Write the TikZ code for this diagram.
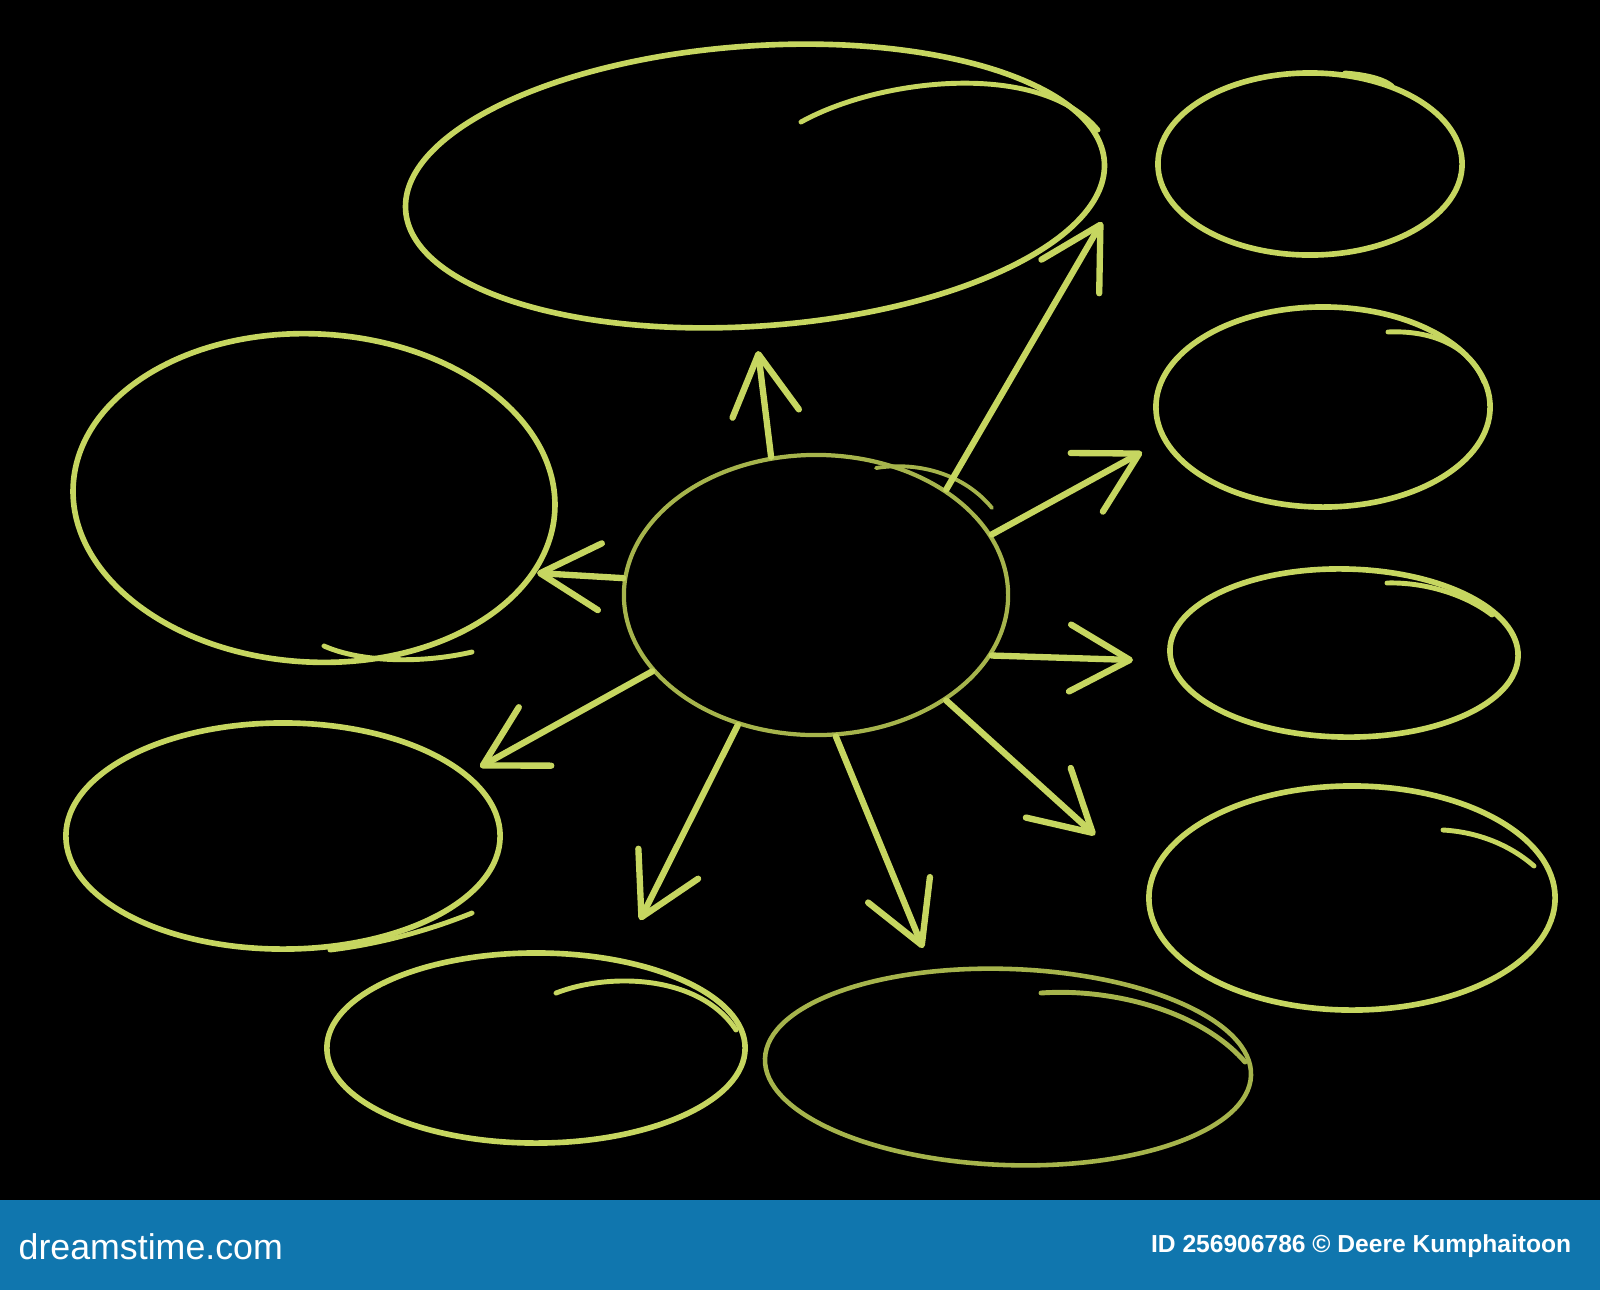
\documentclass[tikz,border=0pt]{standalone}
\usepackage{fontspec}
\setmainfont{Liberation Sans}
\usetikzlibrary{arrows.meta,shapes.geometric}
\definecolor{chalk}{RGB}{198,214,96}
\definecolor{chalkdim}{RGB}{166,180,76}
\definecolor{barblue}{RGB}{16,118,174}
\tikzset{
  bubble/.style={ellipse,draw=chalk,line width=1.6pt,inner sep=0pt},
  tail/.style={draw=chalk,line width=1.4pt,line cap=round},
  spoke/.style={draw=chalk,line width=1.8pt,line cap=round,
    -{Straight Barb[length=17pt,width=19pt,round]}},
}
\begin{document}
\begin{tikzpicture}[x=0.01cm,y=-0.01cm]
    \fill[black] (0,0) rectangle (1600,1290);
    \fill[barblue] (0,1200) rectangle (1600,1290);
    % hub and bubbles
    \node[bubble,draw=chalkdim,line width=1.2pt,minimum width=3.84cm,minimum height=2.8cm] (hub) at (816,595) {};
    \foreach \n/\x/\y/\w/\h/\r in {top/755/186/7.0/2.8/4, tr/1310/164/3.04/1.82/0,
        rb/1323/407/3.34/2.0/0, rc/1344/653/3.48/1.68/-1, rd/1352/898/4.06/2.24/0,
        bl/536/1048/4.18/1.9/0, ll/283/836/4.34/2.26/0, lu/314/498/4.82/3.28/-3}
      \node[bubble,minimum width=\w cm,minimum height=\h cm,rotate=\r] (\n) at (\x,\y) {};
    \node[bubble,draw=chalkdim,line width=1.3pt,minimum width=4.86cm,minimum height=1.96cm,rotate=-2] (bm) at (1008,1067) {};
    % second strokes
    \draw[tail] (801,122) .. controls (880,78) and (1040,60) .. (1098,130);
    \draw[tail] (1345,73) .. controls (1370,75) and (1385,80) .. (1392,86);
    \draw[tail] (1388,332) .. controls (1430,330) and (1470,345) .. (1484,382);
    \draw[tail] (1387,583) .. controls (1420,582) and (1462,592) .. (1492,615);
    \draw[tail] (1443,830) .. controls (1478,832) and (1510,845) .. (1534,866);
    \draw[tail] (556,993) .. controls (610,972) and (700,975) .. (736,1030);
    \draw[tail,draw=chalkdim] (1041,993) .. controls (1110,988) and (1200,1010) .. (1245,1062);
    \draw[tail] (324,646) .. controls (360,662) and (420,664) .. (472,652);
    \draw[tail] (472,913) .. controls (430,930) and (380,944) .. (330,950);
    \draw[tail,draw=chalkdim,line width=1.1pt] (876,468) .. controls (920,461) and (965,475) .. (992,508);
    % arrow ends
    \coordinate (ttop) at (758,351);
    \coordinate (ttr) at (1102,222);
    \coordinate (trb) at (1142,452);
    \coordinate (trc) at (1133,660);
    \coordinate (trd) at (1095,835);
    \coordinate (tbm) at (923,948);
    \coordinate (tbl) at (640,920);
    \coordinate (tll) at (480,767);
    \coordinate (tlu) at (537,573);
    \foreach \a/\t in {108/ttop, 39/ttr, 19/trb, 341/trc, 321/trd,
        278/tbm, 239/tbl, 205/tll, 175/tlu}
      \draw[spoke] (hub.\a) -- (\t);
    % bottom bar
    \node[text=white,anchor=west,inner sep=0pt] (site) at (18,1247) {\resizebox{2.64cm}{!}{dreamstime.com}};
    \node[text=white,anchor=east,inner sep=0pt,font=\bfseries] (credit) at (1572,1246) {\resizebox{4.2cm}{!}{ID 256906786 © Deere Kumphaitoon}};
\end{tikzpicture}
\end{document}
